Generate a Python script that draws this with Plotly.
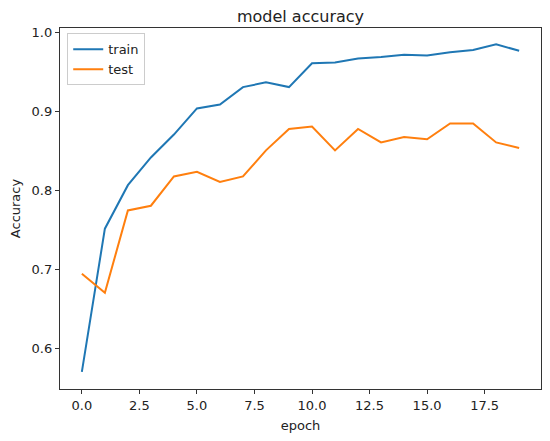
import plotly.graph_objects as go

# values
epochs = list(range(20))
train_acc = [0.571, 0.752, 0.807, 0.842, 0.871, 0.904, 0.909, 0.931, 0.937, 0.931,
             0.961, 0.962, 0.967, 0.969, 0.972, 0.971, 0.975, 0.978, 0.985, 0.977]
test_acc = [0.695, 0.671, 0.775, 0.781, 0.818, 0.824, 0.811, 0.818, 0.851, 0.878,
            0.881, 0.851, 0.878, 0.861, 0.868, 0.865, 0.885, 0.885, 0.861, 0.854]
x_ticks = [0, 2.5, 5, 7.5, 10, 12.5, 15, 17.5]
y_ticks = [0.6, 0.7, 0.8, 0.9, 1.0]

fig = go.Figure()
fig.add_trace(go.Scatter(x=epochs, y=train_acc, mode='lines', name='train',
                         line=dict(color='#1f77b4', width=2)))
fig.add_trace(go.Scatter(x=epochs, y=test_acc, mode='lines', name='test',
                         line=dict(color='#ff7f0e', width=2)))

axis_style = dict(
    showgrid=False,
    zeroline=False,
    showline=True,
    mirror=True,
    linecolor='#333',
    linewidth=1.3,
    ticks='outside',
    ticklen=4,
    tickcolor='#333',
    tickformat='.1f',
    tickfont=dict(size=13, color='#222'),
    automargin=False,
)

# page body adds ~8px around the div, so the figure is a bit smaller than the window
fig.update_layout(
    width=534,
    height=425,
    margin=dict(l=52, r=1, t=20, b=44),
    paper_bgcolor='white',
    plot_bgcolor='white',
    font=dict(family='DejaVu Sans', color='#222'),
    title=dict(text='model accuracy', x=0.5, xref='paper', xanchor='center',
               y=0.981, yanchor='middle', font=dict(size=16)),
    xaxis=dict(axis_style, range=[-0.95, 19.95], tickvals=x_ticks,
               title=dict(text='epoch', font=dict(size=13), standoff=9)),
    yaxis=dict(axis_style, range=[0.5493, 1.0057], tickvals=y_ticks,
               title=dict(text='Accuracy', font=dict(size=13), standoff=8)),
    legend=dict(x=0.015, y=0.985, xanchor='left', yanchor='top', itemwidth=30,
                bgcolor='rgba(255,255,255,0.8)', bordercolor='#ccc', borderwidth=1,
                font=dict(size=13)),
)

fig.write_html("out.html")
